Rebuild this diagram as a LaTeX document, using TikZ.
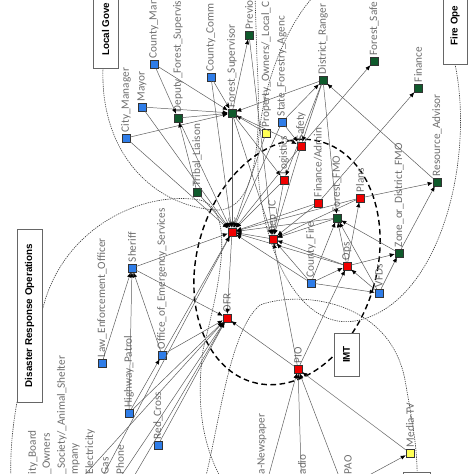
\documentclass[tikz,border=0pt]{standalone}
\usepackage{fontspec}
\setmainfont{Carlito}
\newfontfamily\boxfont{Liberation Sans}
\usepackage{xcolor}
\definecolor{nwred}{HTML}{F00000}
\definecolor{nwgreen}{HTML}{0F5A2C}
\definecolor{nwblue}{HTML}{2F7DE8}
\definecolor{nwyellow}{HTML}{FFFF55}
\definecolor{nwline}{HTML}{5C5C5C}
\definecolor{nwtext}{HTML}{6E6E6E}
\usepackage{tikz}
\usetikzlibrary{arrows.meta,calc}
\tikzset{
  nwsq/.style   ={rectangle, draw=black!80, line width=0.3pt, minimum size=0.2cm, inner sep=0pt},
  nwr/.style    ={nwsq, fill=nwred},
  nwg/.style    ={nwsq, fill=nwgreen},
  nwb/.style    ={nwsq, fill=nwblue},
  nwy/.style    ={nwsq, fill=nwyellow},
  nwlbl/.style  ={font=\fontsize{8}{9}\selectfont, text=nwtext, rotate=90, anchor=west, inner sep=1pt},
  nwedge/.style ={draw=nwline, line width=0.35pt, -{Latex[length=3.6pt,width=3pt,color=black]}},
  nwgroup/.style={draw=black!75, line width=0.45pt, dash pattern=on 0.9pt off 0.7pt},
  nwimt/.style  ={draw=black, line width=1pt, dash pattern=on 4pt off 2.5pt},
  nwbox/.style  ={draw=black!60, fill=white, line width=0.6pt},
  nwtitle/.style={font=\boxfont\bfseries\fontsize{7}{8}\selectfont, rotate=90, inner sep=0pt},
}

\begin{document}
\begin{tikzpicture}[x=0.025cm, y=-0.025cm]
  \path[use as bounding box] (0,0) rectangle (474,474);
  \clip (0,0) rectangle (474,474);

  % group outlines
  \draw[nwgroup] (103,68) .. controls (100,150) and (150,205) .. (215,210)
                 .. controls (255,212) and (262,150) .. (257,60) -- (255,-5);
  \draw[nwgroup] (455,64) .. controls (475,160) and (440,300) .. (360,320)
                 .. controls (300,335) and (262,250) .. (258,170)
                 .. controls (255,90) and (290,20) .. (315,-5);
  \draw[nwgroup] (42,312) .. controls (60,230) and (140,190) .. (200,200)
                 .. controls (240,210) and (215,300) .. (203,350)
                 .. controls (195,410) and (205,450) .. (222,480);
  \draw[nwgroup] (17,402) .. controls (12,430) and (10,455) .. (11,480);
  \draw[nwgroup] (205,480) .. controls (220,420) and (230,330) .. (260,305)
                 .. controls (300,290) and (390,300) .. (405,380)
                 .. controls (412,420) and (418,450) .. (417,480);
  \draw[nwimt, rotate around={-16:(287,262)}] (287,262) ellipse [x radius=90, y radius=125];

  % title boxes
  \draw[nwbox] (93,-10) rectangle (118,68);
  \node[nwtitle, anchor=west] (tLocal) at (105.5,56) {Local Gove};
  \draw[nwbox] (443,-10) rectangle (467,64);
  \node[nwtitle, anchor=west] (tFire) at (455,46) {Fire Ope};
  \draw[nwbox] (17,229) rectangle (42,402);
  \node[nwtitle] (tDisaster) at (29.5,315.5) {Disaster Response Operations};
  \draw[nwbox] (334,333) rectangle (359,376);
  \node[nwtitle] (tIMT) at (346.5,354.5) {IMT};
  \draw[nwbox] (403,472) rectangle (430,490);

  % nodes
  \foreach \n/\x/\y/\t in {CityMgr/126/138/City\_Manager, Mayor/142/107/Mayor,
      CountyMgr/154/64/County\_Man, CountyComm/211/77/County\_Comm,
      StateFor/282/122/State\_Forestry\_Agenc, Sheriff/132/268/Sheriff,
      OfficeES/162/355/Office\_of\_Emergency\_Services,
      LawEnf/102/363/Law\_Enforcement\_Officer, Highway/129/413/Highway\_Patrol,
      RedCross/158/445/Red\_Cross, CountyFire/311/283/County\_Fire, VFDs/379/293/VFDs}
    {\node[nwb] (\n) at (\x,\y) {};
     \node[nwlbl] at (\n.north) {\t};}
  \foreach \n/\x/\y/\t in {Deputy/178/118/Deputy\_Forest\_Supervis,
      ForestSup/232/113/Forest\_Supervisor, Tribal/197/192/Tribal\_Liaison,
      Previous/249/35/Previo, DistRanger/323/80/District\_Ranger,
      ForestSafety/374/61/Forest\_Safe, Finance/418/88/Finance,
      ForestFMO/337/218/Forest\_FMO, ZoneFMO/399/253/Zone\_or\_District\_FMO,
      ResAdv/437/182/Resource\_Advisor}
    {\node[nwg] (\n) at (\x,\y) {};
     \node[nwlbl] at (\n.north) {\t};}
  \foreach \n/\x/\y/\t in {IC/232/232/IC, DepIC/273/239/Dep\_IC,
      Logistics/284/180/Logistics, Safety/301/146/Safety,
      FinAdmin/318/203/{Finance/Admin}, Plans/360/198/Plans, Ops/347/266/Ops,
      OFR/227/318/OFR, PIO/298/369/PIO}
    {\node[nwr] (\n) at (\x,\y) {};
     \node[nwlbl] at (\n.north) {\t};}
  \foreach \n/\x/\y/\t in {PropOwners/266/133/{Property\_Owners/\_Local\_C},
      MediaTV/410/453/Media-TV}
    {\node[nwy] (\n) at (\x,\y) {};
     \node[nwlbl] at (\n.north) {\t};}

  % nodes below the frame
  \foreach \n/\x/\t in {Board/33/ity\_Board, Owners/47/\_Owners,
      Shelter/62/{\_Society/\_Animal\_Shelter}, Company/76/mpany,
      Electricity/90/Electricity, Gas/105/Gas, Phone/120/Phone,
      Newspaper/262/a-Newspaper, Radio/302/adio, PAO/348/PAO}
    {\coordinate (\n) at (\x,500);
     \node[nwlbl] at (\x,476) {\t};}
  \coordinate (MediaLow) at (360,480);

  % links
  \foreach \a/\b in {CityMgr/ForestSup, CityMgr/IC, Mayor/ForestSup, Mayor/IC,
      CountyMgr/ForestSup, CountyMgr/Deputy, Deputy/ForestSup, Tribal/Deputy,
      Deputy/IC, CountyComm/ForestSup, CountyComm/IC, ForestSup/Previous,
      Previous/DepIC, DistRanger/ForestSup, PropOwners/ForestSup, ForestSup/IC,
      ForestSup/DepIC, ForestSup/Safety, ForestSup/Logistics, Tribal/IC,
      StateFor/DistRanger, StateFor/IC, StateFor/Safety, PropOwners/IC,
      DistRanger/Safety, DistRanger/Logistics, DistRanger/ForestFMO,
      ResAdv/DistRanger, Safety/ForestSafety, FinAdmin/Finance, Plans/ResAdv,
      ZoneFMO/ResAdv, Ops/ZoneFMO, VFDs/ZoneFMO, ZoneFMO/ForestFMO,
      CountyFire/VFDs, VFDs/Ops, Ops/Plans, Ops/ForestFMO, VFDs/ForestFMO,
      Ops/IC, Ops/DepIC, CountyFire/IC, CountyFire/DepIC, CountyFire/Ops,
      CountyFire/ForestFMO, DepIC/IC, Logistics/IC, Logistics/DepIC,
      Safety/IC, Safety/DepIC, FinAdmin/IC, FinAdmin/DepIC, Plans/IC,
      Plans/DepIC, ForestFMO/IC, ForestFMO/DepIC, IC/OFR, Sheriff/IC,
      Sheriff/OFR, LawEnf/Sheriff, Highway/Sheriff, OfficeES/Sheriff,
      OfficeES/IC, OfficeES/OFR, Highway/OFR, Highway/OfficeES, RedCross/OFR,
      PIO/OFR, PIO/DepIC, PIO/Ops, Newspaper/PIO, Radio/PIO, PAO/PIO,
      MediaTV/PIO, MediaLow/MediaTV, Shelter/OFR, Electricity/IC, Phone/OFR,
      Gas/OFR}
    \draw[nwedge] (\a) -- (\b);
\end{tikzpicture}
\end{document}
